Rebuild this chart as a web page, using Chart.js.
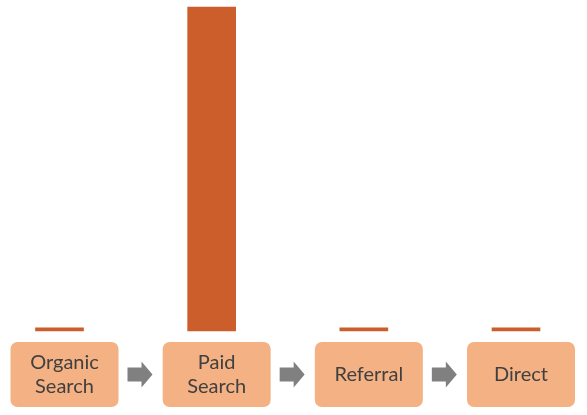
<!DOCTYPE html>
<html>
<head>
<meta charset="utf-8">
<script src="https://cdn.jsdelivr.net/npm/chart.js@4.4.1/dist/chart.umd.min.js"></script>
<style>
  html, body { margin: 0; padding: 0; background: #fff; }
</style>
</head>
<body>
<canvas id="funnelChart" width="587" height="415"></canvas>
<script>
// Channels (each entry is the lines of its label box)
const channelLabels = [['Organic', 'Search'], ['Paid', 'Search'], ['Referral'], ['Direct']];
const channelNames = ['Organic Search', 'Paid Search', 'Referral', 'Direct'];
// Share of visits per channel (Paid Search dominates)
const visitValues = [1, 100, 1, 1];

// draws the rounded label boxes and the grey arrows under the bars
const flowBoxes = {
  id: 'flowBoxes',
  afterDraw(chart) {
    const ctx = chart.ctx;
    const xScale = chart.scales.x;
    const boxW = 108, boxH = 65, boxTop = 342;
    ctx.save();
    for (let i = 0; i < channelLabels.length; i++) {
      const cx = xScale.getPixelForValue(i) + 5;
      ctx.fillStyle = '#F4B183';
      ctx.beginPath();
      ctx.roundRect(cx - boxW / 2, boxTop, boxW, boxH, 7);
      ctx.fill();

      const lines = channelLabels[i];
      ctx.fillStyle = '#404040';
      ctx.font = '20px Lato';
      ctx.textAlign = 'center';
      ctx.textBaseline = 'middle';
      const lineH = 24;
      const startY = boxTop + boxH / 2 - (lines.length - 1) * lineH / 2;
      lines.forEach((t, k) => ctx.fillText(t, cx, startY + k * lineH));

      // arrow to the next box
      if (i < channelLabels.length - 1) {
        const ax = cx + boxW / 2 + 9;
        const midY = boxTop + boxH / 2;
        ctx.fillStyle = '#808080';
        ctx.beginPath();
        ctx.moveTo(ax, midY - 7);
        ctx.lineTo(ax + 14, midY - 7);
        ctx.lineTo(ax + 14, midY - 13);
        ctx.lineTo(ax + 25, midY);
        ctx.lineTo(ax + 14, midY + 13);
        ctx.lineTo(ax + 14, midY + 7);
        ctx.lineTo(ax, midY + 7);
        ctx.closePath();
        ctx.fill();
      }
    }
    ctx.restore();
  }
};

const ctx = document.getElementById('funnelChart').getContext('2d');
const myChart = new Chart(ctx, {
  type: 'bar',
  data: {
    labels: channelNames,
    datasets: [{
      label: 'Visits',
      data: visitValues,
      backgroundColor: '#CB5E2B',
      barThickness: 48,
      borderWidth: 0,
      clip: false
    }]
  },
  options: {
    responsive: false,
    animation: false,
    layout: {
      padding: { left: 59.5, right: 71, top: 7, bottom: 84 }
    },
    plugins: {
      legend: { display: false },
      tooltip: { enabled: false }
    },
    scales: {
      x: {
        display: false,
        offset: false,
        grid: { display: false }
      },
      y: {
        display: false,
        min: 0,
        max: 100
      }
    }
  },
  plugins: [flowBoxes]
});
</script>
</body>
</html>
